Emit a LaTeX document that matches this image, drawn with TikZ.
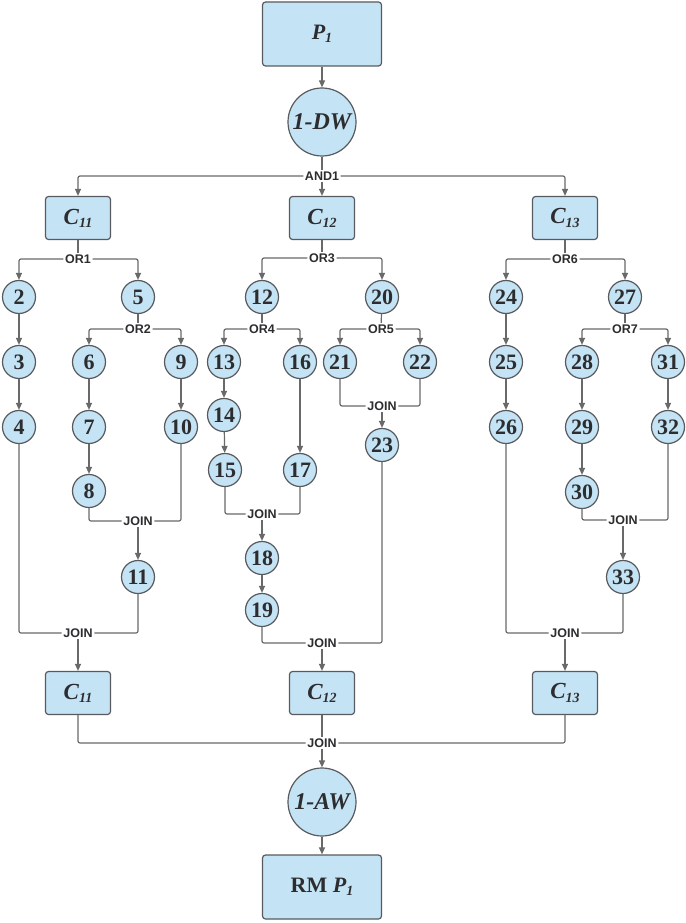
\documentclass[tikz,border=0pt]{standalone}
\usepackage{fontspec}
\setmainfont{Liberation Serif}
\setsansfont{Liberation Sans}
\usepackage{tikz}
\usetikzlibrary{
  shapes.geometric,
  arrows.meta,
  positioning
}
\definecolor{NodeBlue}{RGB}{196, 228, 245}
\definecolor{EdgeGray}{RGB}{88, 90, 94}
\definecolor{LineGray}{RGB}{105, 105, 105}
\definecolor{TextDark}{RGB}{45, 45, 48}
\newcommand{\sbx}[1]{\raisebox{-0.3ex}{\fontsize{14}{14}\selectfont #1}}
\tikzset{
    num/.style={circle, draw=EdgeGray, fill=NodeBlue, line width=1.2pt, minimum size=33pt, inner sep=0pt,
        text=TextDark, font=\fontsize{22}{22}\selectfont\bfseries},
    bignum/.style={num, minimum size=68pt, font=\fontsize{24}{24}\selectfont\bfseries\itshape},
    blk/.style={rectangle, rounded corners=3pt, draw=EdgeGray, fill=NodeBlue, line width=1.2pt,
        minimum width=65pt, minimum height=43pt, inner sep=0pt, text=TextDark,
        font=\fontsize{23}{23}\selectfont\bfseries\itshape},
    bigblk/.style={blk, minimum width=119pt, minimum height=64pt, font=\fontsize{22}{22}\selectfont\bfseries},
    gate/.style={fill=white, inner sep=1.5pt, text=TextDark, font=\sffamily\bfseries\fontsize{12.5}{12.5}\selectfont},
    ln/.style={draw=LineGray, line width=1.2pt, rounded corners=2pt},
    arr/.style={ln, -{Triangle[length=7pt,width=6pt]}}
}

\begin{document}
\begin{tikzpicture}[x=1pt, y=-1pt]
    \useasboundingbox (0,0) rectangle (685,923);

    % top part
    \node[bigblk] (p1) at (322,34) {\itshape P\sbx{1}};
    \node[bignum] (dw) at (322,122) {1-DW};
    \node[gate] (and1) at (322,176) {AND1};
    \node[blk] (c11a) at (78,218) {C\sbx{11}};
    \node[blk] (c12a) at (322,218) {C\sbx{12}};
    \node[blk] (c13a) at (565,218) {C\sbx{13}};

    % numbered steps
    \foreach \n/\x/\y in {2/19/297, 5/138/297, 12/262/297, 20/382/297, 24/506/297, 27/625/297,
        3/19/362, 6/89/362, 9/181/362, 13/224/362, 16/300/362, 21/340/362, 22/420/362,
        25/506/362, 28/582/362, 31/668/362,
        4/19/427, 7/89/427, 10/181/427, 26/506/427, 29/582/427, 32/668/427,
        14/224/415, 23/382/445, 8/89/491, 30/582/492, 15/225/470, 17/300/470,
        18/262/558, 19/262/610, 11/138/577, 33/623/577}
        \node[num] (n\n) at (\x,\y) {\n};

    % OR splits
    \node[gate] (or1) at (78,259) {OR1};
    \node[gate] (or3) at (322,258) {OR3};
    \node[gate] (or6) at (565,259) {OR6};
    \node[gate] (or2) at (138,329) {OR2};
    \node[gate] (or4) at (262,329) {OR4};
    \node[gate] (or5) at (381,329) {OR5};
    \node[gate] (or7) at (625,329) {OR7};

    % joins
    \node[gate] (joinA) at (382,406) {JOIN};
    \node[gate] (joinB) at (262,514) {JOIN};
    \node[gate] (joinC) at (138,521) {JOIN};
    \node[gate] (joinD) at (623,520) {JOIN};
    \node[gate] (joinE) at (78,633) {JOIN};
    \node[gate] (joinF) at (322,643) {JOIN};
    \node[gate] (joinG) at (565,633) {JOIN};
    \node[gate] (joinH) at (322,743) {JOIN};

    % bottom part
    \node[blk] (c11b) at (78,693) {C\sbx{11}};
    \node[blk] (c12b) at (322,693) {C\sbx{12}};
    \node[blk] (c13b) at (565,693) {C\sbx{13}};
    \node[bignum] (aw) at (322,802) {1-AW};
    \node[bigblk] (rm) at (322,887) {RM \itshape P\sbx{1}};

    % connectors
    \draw[arr] (p1) -- (dw);
    \draw[ln] (dw) -- (and1);
    \draw[arr] (and1) -| (c11a);
    \draw[arr] (and1) -- (c12a);
    \draw[arr] (and1) -| (c13a);

    \foreach \c/\g in {c11a/or1, c12a/or3, c13a/or6, n5/or2, n12/or4, n20/or5, n27/or7}
        \draw[ln] (\c) -- (\g);
    \foreach \g/\a/\b in {or1/n2/n5, or3/n12/n20, or6/n24/n27, or2/n6/n9, or4/n13/n16, or5/n21/n22, or7/n28/n31} {
        \draw[arr] (\g) -| (\a);
        \draw[arr] (\g) -| (\b);
    }

    \foreach \a/\b in {2/3, 3/4, 6/7, 7/8, 9/10, 13/14, 14/15, 16/17, 18/19,
        24/25, 25/26, 28/29, 29/30, 31/32}
        \draw[arr] (n\a) -- (n\b);

    \foreach \a/\b/\g/\t in {n21/n22/joinA/n23, n15/n17/joinB/n18, n8/n10/joinC/n11, n30/n32/joinD/n33,
        n4/n11/joinE/c11b, n19/n23/joinF/c12b, n26/n33/joinG/c13b} {
        \draw[ln] (\a) |- (\g);
        \draw[ln] (\b) |- (\g);
        \draw[arr] (\g) -- (\t);
    }

    \draw[ln] (c11b) |- (joinH);
    \draw[ln] (c13b) |- (joinH);
    \draw[ln] (c12b) -- (joinH);
    \draw[arr] (joinH) -- (aw);
    \draw[arr] (aw) -- (rm);
\end{tikzpicture}
\end{document}
